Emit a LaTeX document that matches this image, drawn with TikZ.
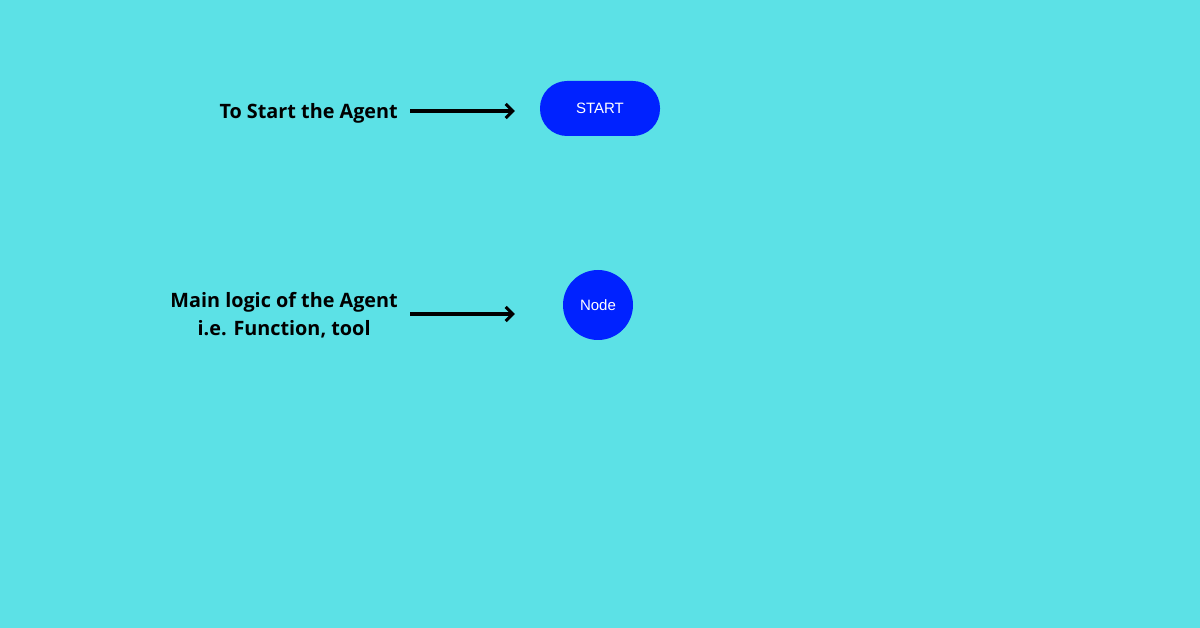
\documentclass[tikz,border=0pt]{standalone}
\usepackage{fontspec}
\setmainfont{Open Sans}
\newfontfamily\boxfont{Liberation Sans}
\usetikzlibrary{arrows.meta}
\definecolor{bgcyan}{HTML}{5CE1E6}
\definecolor{nodeblue}{HTML}{0022FF}
\tikzset{
  label text/.style={font=\bfseries\fontsize{19.8}{28}\selectfont, text=black, inner sep=0pt, align=center},
  pointer/.style={line width=3.4pt, -{Straight Barb[length=7pt, width=14pt, line width=3pt]}},
  pillbox/.style={fill=nodeblue, rounded corners=27pt, minimum width=120pt, minimum height=55pt, inner sep=0pt, text=white, font=\boxfont\fontsize{15}{17}\selectfont},
  roundbox/.style={circle, fill=nodeblue, minimum size=70pt, inner sep=0pt, text=white, font=\boxfont\fontsize{15}{17}\selectfont}
}
\begin{document}
\begin{tikzpicture}[x=1pt,y=-1pt]
  \fill[bgcyan] (0,0) rectangle (1200,628);
  \useasboundingbox (0,0) rectangle (1200,628);
  \node[label text, anchor=east] (t1) at (398,113.5) {To Start the Agent};
  \node[label text, anchor=east] (t2) at (398,315) {Main logic of the Agent\\i.e. Function, tool};
  \node[pillbox] (start) at (600,108.5) {START};
  \node[roundbox] (n2) at (598,305) {Node};
  \coordinate (a1) at (410,111);
  \coordinate (a2) at (410,314);
  \draw[pointer, shorten >=25pt] (a1) -- (a1 -| start.west);
  \draw[pointer, shorten >=48pt] (a2) -- (a2 -| n2.west);
\end{tikzpicture}
\end{document}
